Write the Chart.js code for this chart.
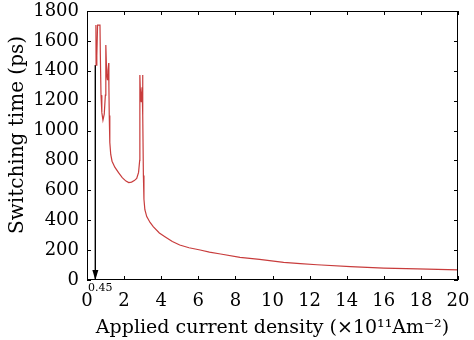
<!DOCTYPE html>
<html>
<head>
<meta charset="utf-8">
<script src="https://cdn.jsdelivr.net/npm/chart.js@4/dist/chart.umd.min.js"></script>
<style>
  html, body { margin: 0; padding: 0; background: #fff; }
  #c { display: block; }
</style>
</head>
<body>
<canvas id="c" width="474" height="340"></canvas>
<script>
// Applied current density (x10^11 A m^-2)
const currentDensity = [
  0.48, 0.49, 0.53, 0.57, 0.70, 0.72, 0.755, 0.80, 0.86, 0.93, 0.99, 1.01, 1.02,
  1.06, 1.10, 1.13, 1.17, 1.18, 1.20, 1.23, 1.28, 1.35, 1.50, 1.70, 1.90, 2.10,
  2.25, 2.40, 2.55, 2.68, 2.78, 2.84, 2.85, 2.87, 2.92, 2.97, 3.00, 3.01, 3.04,
  3.07, 3.12, 3.22, 3.40, 3.57, 3.90, 4.20, 4.60, 5.00, 5.50, 6.10, 6.60, 7.20,
  8.25, 9.30, 10.6, 11.5, 12.4, 14.2, 16.0, 17.8, 20.0
];
// Switching time (ps)
const switchingTime = [
  1706, 1438, 1500, 1706, 1706, 1500, 1237, 1120, 1070, 1110, 1237, 1450, 1572,
  1380, 1340, 1400, 1452, 1300, 1100, 920, 840, 795, 755, 718, 685, 662,
  652, 655, 665, 680, 720, 800, 1372, 1290, 1190, 1290, 1372, 1100, 700,
  540, 470, 424, 385, 357, 315, 290, 258, 234, 216, 201, 186, 174,
  152, 138, 118, 110, 102, 89, 80, 74, 68
];
// Threshold arrow
const arrowX = [0.45, 0.45];
const arrowY = [1438, 0];
const arrowLabel = "0.45";
const xTicks = [0, 2, 4, 6, 8, 10, 12, 14, 16, 18, 20];
const yTicks = [0, 200, 400, 600, 800, 1000, 1200, 1400, 1600, 1800];
const yTitle = 'Switching time (ps)';
const xTitle = 'Applied current density (×10¹¹Am⁻²)';

const FONT = "'DejaVu Serif', 'Liberation Serif', serif";

const framePlugin = {
  id: 'frame',
  afterDraw(chart) {
    const ctx = chart.ctx;
    const a = chart.chartArea;
    const xs = chart.scales.x, ys = chart.scales.y;
    ctx.save();
    ctx.strokeStyle = '#000';
    ctx.lineWidth = 1;
    ctx.strokeRect(Math.round(a.left) + 0.5, Math.round(a.top) + 0.5,
                   Math.round(a.right - a.left) - 1, Math.round(a.bottom - a.top) - 1);
    ctx.beginPath();
    const L = 4;
    xTicks.forEach(v => {
      const px = Math.round(xs.getPixelForValue(v)) + 0.5;
      ctx.moveTo(px, a.bottom); ctx.lineTo(px, a.bottom - L);
      ctx.moveTo(px, a.top); ctx.lineTo(px, a.top + L);
    });
    yTicks.forEach(v => {
      const py = Math.round(ys.getPixelForValue(v)) + 0.5;
      ctx.moveTo(a.left, py); ctx.lineTo(a.left + L, py);
      ctx.moveTo(a.right, py); ctx.lineTo(a.right - L, py);
    });
    ctx.stroke();
    // arrow head
    const ax = xs.getPixelForValue(arrowX[1]);
    const ay = ys.getPixelForValue(arrowY[1]);
    ctx.fillStyle = '#000';
    ctx.beginPath();
    ctx.moveTo(ax, ay);
    ctx.lineTo(ax - 3, ay - 10);
    ctx.lineTo(ax + 3, ay - 10);
    ctx.closePath();
    ctx.fill();
    // arrow label
    ctx.font = "11px " + FONT;
    ctx.textAlign = 'center';
    ctx.textBaseline = 'middle';
    ctx.fillText(arrowLabel, ax + 5, ay + 8);
    // y axis title
    ctx.translate(18, 135);
    ctx.rotate(-Math.PI / 2);
    ctx.font = "20px " + FONT;
    ctx.fillText(yTitle, 0, 0);
    ctx.restore();
  }
};

new Chart(document.getElementById('c'), {
  type: 'line',
  data: {
    datasets: [
      {
        data: currentDensity.map((x, i) => ({ x: x, y: switchingTime[i] })),
        borderColor: '#c83c3c',
        borderWidth: 1.2,
        pointRadius: 0,
        tension: 0,
        fill: false
      },
      {
        data: arrowX.map((x, i) => ({ x: x, y: arrowY[i] })),
        borderColor: '#000',
        borderWidth: 1,
        pointRadius: 0,
        fill: false
      }
    ]
  },
  options: {
    responsive: false,
    animation: false,
    devicePixelRatio: 1,
    layout: { padding: { top: 11, right: 16, left: 0, bottom: 0 } },
    plugins: { legend: { display: false }, tooltip: { enabled: false } },
    scales: {
      x: {
        type: 'linear', min: 0, max: 20,
        grid: { display: false, drawTicks: false },
        border: { display: false },
        afterBuildTicks(s) { s.ticks = xTicks.map(v => ({ value: v })); },
        afterFit(s) { s.height = 60; s.paddingLeft = 0; s.paddingRight = 0; },
        ticks: { color: '#000', font: { family: FONT, size: 18 }, padding: 11, maxRotation: 0,
                 callback: v => String(v) },
        title: {
          display: true,
          text: xTitle,
          color: '#000',
          font: { family: FONT, size: 19 },
          padding: { top: 0, bottom: 1 }
        }
      },
      y: {
        type: 'linear', min: 0, max: 1800,
        grid: { display: false, drawTicks: false },
        border: { display: false },
        afterBuildTicks(s) { s.ticks = yTicks.map(v => ({ value: v })); },
        afterFit(s) { s.width = 87; s.paddingTop = 0; s.paddingBottom = 0; },
        ticks: { color: '#000', font: { family: FONT, size: 18 }, padding: 8,
                 callback: v => String(v) }
      }
    }
  },
  plugins: [framePlugin]
});
</script>
</body>
</html>
